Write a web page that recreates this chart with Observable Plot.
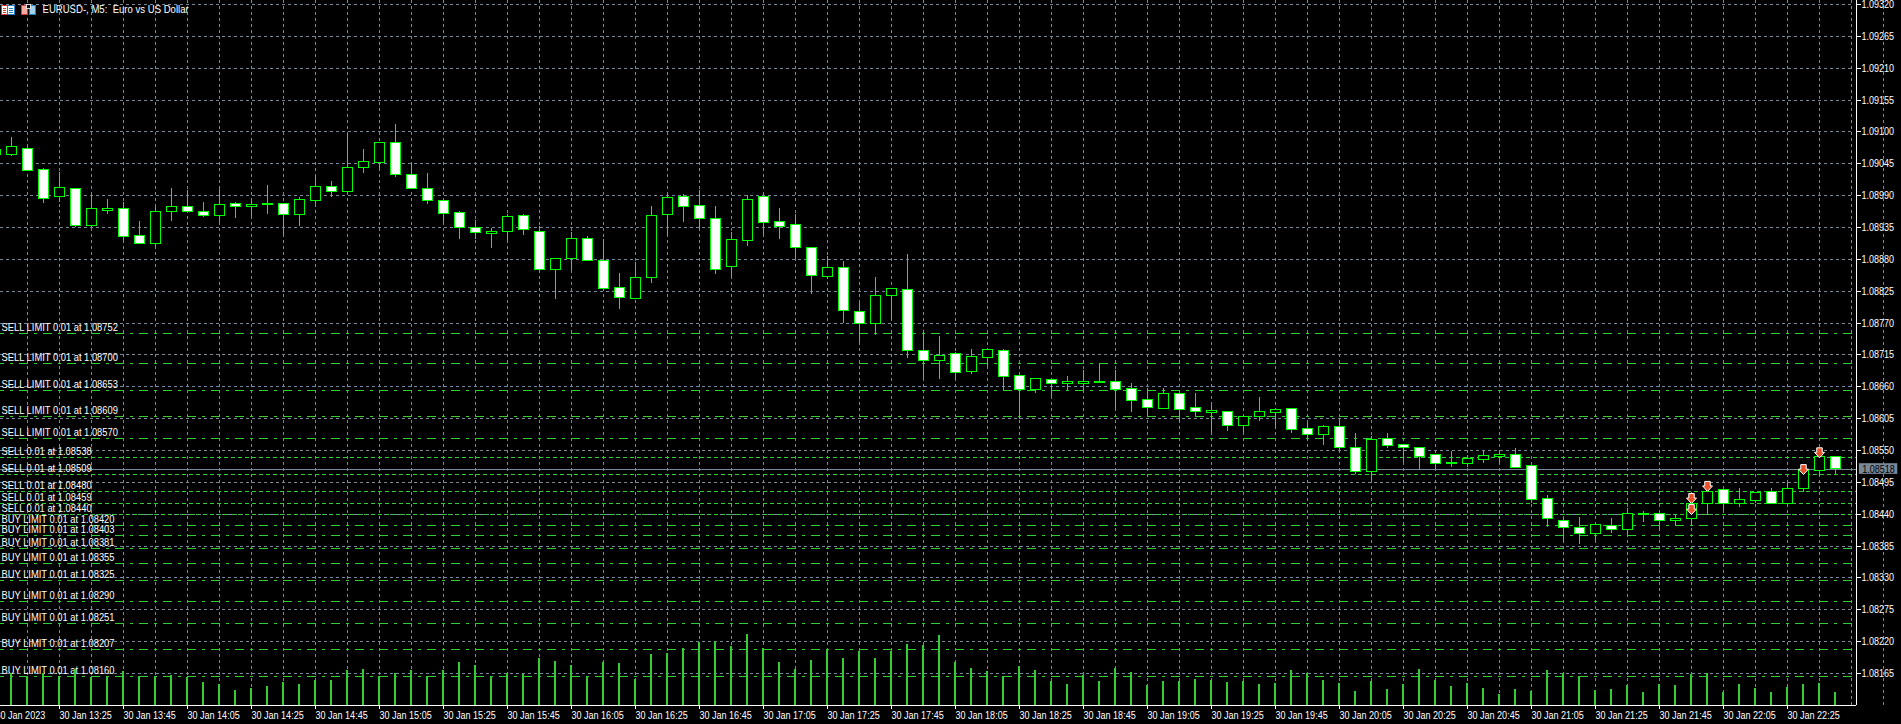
<!DOCTYPE html>
<html><head><meta charset="utf-8">
<script src="https://cdn.jsdelivr.net/npm/d3@7"></script>
<script src="https://cdn.jsdelivr.net/npm/@observablehq/plot@0.6"></script>
<style>
html,body{margin:0;padding:0;background:#000;overflow:hidden}
#wrap{position:relative;width:1901px;height:724px}
#icons{position:absolute;left:0;top:0}
</style></head><body><div id="wrap"></div>
<script>
// prices in points (1e-5); first candle is 30 Jan 13:05, every 5 minutes
const highs=[109075,109091,109073,109037,109030,109003,108990,108983,108978,108945,
108969,109002,108999,108978,109000,108979,108980,109007,108977,108987,
109022,109014,109095,109069,109082,109112,109046,109028,108980,108962,
108947,108934,108958,108957,108936,108882,108927,108919,108914,108855,
108875,108971,108992,108992,108999,108972,108927,108991,108988,108967,
108957,108901,108885,108876,108804,108848,108828,108888,108754,108746,
108720,108724,108723,108725,108680,108675,108672,108677,108688,108698,
108688,108666,108657,108657,108649,108648,108627,108616,108608,108641,
108623,108622,108597,108594,108605,108580,108574,108580,108559,108555,
108542,108549,108542,108550,108550,108554,108523,108473,108432,108435,
108421,108432,108450,108445,108441,108440,108459,108479,108481,108485,
108478,108485,108493,108519,108538,108540];
const lows=[109055,109057,109033,108976,108978,108935,108935,108957,108912,108905,
108902,108945,108961,108952,108943,108950,108954,108957,108923,108936,
108975,108986,108996,109029,109037,109022,109001,108974,108943,108914,
108914,108898,108912,108922,108859,108810,108861,108878,108829,108794,
108810,108839,108919,108943,108930,108853,108848,108903,108923,108914,
108881,108819,108846,108770,108737,108748,108774,108708,108673,108673,
108672,108681,108695,108653,108603,108648,108644,108653,108653,108666,
108623,108615,108611,108620,108598,108608,108581,108582,108581,108600,
108587,108580,108570,108558,108550,108509,108498,108554,108529,108517,
108517,108520,108520,108527,108527,108520,108458,108417,108391,108388,
108394,108407,108403,108426,108411,108418,108418,108437,108446,108452,
108459,108458,108458,108477,108505,108508];
const opens=[109060,109061,109071,109034,108987,109001,108938,108964,108967,108920,
108907,108961,108970,108961,108954,108975,108971,108973,108975,108956,
108981,109005,108997,109037,109046,109081,109025,109001,108980,108960,
108935,108924,108928,108954,108928,108861,108880,108916,108877,108830,
108812,108847,108956,108987,108972,108949,108866,108911,108987,108944,
108939,108899,108850,108865,108789,108769,108816,108827,108721,108705,
108716,108686,108710,108721,108678,108655,108671,108664,108665,108667,
108668,108656,108637,108622,108647,108623,108615,108616,108593,108608,
108615,108621,108587,108576,108590,108555,108513,108569,108559,108555,
108542,108527,108527,108534,108539,108543,108523,108466,108429,108417,
108405,108420,108413,108439,108440,108429,108432,108458,108481,108458,
108463,108478,108458,108483,108515,108538];
const closes=[109069,109074,109033,108985,109003,108937,108967,108967,108918,108907,
108961,108970,108961,108954,108973,108971,108973,108975,108956,108982,
109005,108997,109037,109048,109081,109025,109002,108980,108959,108935,
108926,108928,108953,108930,108861,108880,108916,108878,108829,108814,
108847,108954,108986,108971,108949,108862,108913,108982,108943,108936,
108900,108852,108865,108790,108769,108816,108828,108721,108705,108713,
108684,108711,108723,108677,108655,108673,108664,108668,108668,108668,
108655,108636,108624,108647,108620,108617,108618,108593,108607,108616,
108620,108586,108576,108590,108555,108513,108568,108558,108555,108539,
108526,108528,108535,108540,108542,108520,108465,108432,108417,108405,
108421,108413,108440,108440,108429,108432,108458,108479,108458,108464,
108476,108458,108483,108516,108538,108518];
const volumes=[30,32,28,32,29,36,28,29,34,29,29,30,28,23,21,15,17,19,23,21,25,
25,35,36,29,32,35,29,35,43,40,29,32,31,47,44,40,29,43,42,26,
51,52,57,63,64,59,71,57,43,36,45,56,47,54,47,54,61,60,70,43,
37,34,29,39,35,24,21,30,24,37,33,20,24,24,26,25,23,24,21,22,
35,32,25,22,14,24,16,21,36,25,19,22,17,11,16,14,35,32,29,15,
16,20,13,21,20,31,32,13,21,17,13,18,21,22,13];
const sellLimits=[1.08752,1.08700,1.08653,1.08609,1.08570];
const sells=[1.08538,1.08509,1.08480,1.08459,1.08440];
const buyLimits=[1.08420,1.08403,1.08381,1.08355,1.08325,1.08290,1.08251,1.08207,1.08160];
const yTicks=[1.09320,1.09265,1.09210,1.09155,1.09100,1.09045,1.08990,1.08935,1.08880,1.08825,1.08770,
1.08715,1.08660,1.08605,1.08550,1.08495,1.08440,1.08385,1.08330,1.08275,1.08220,1.08165];
const arrowIdx=[106,106,107,113,114];      // index into candles
const arrowPrices=[1.08467,1.08448,1.08488,1.08517,1.08546];
const lastPrice=1.08518;
const title="EURUSD-, M5:  Euro vs US Dollar";

const MIN=60000, t0=Date.UTC(2023,0,30,13,5);
const at=m=>new Date(t0+m*MIN);
const times=highs.map((_,i)=>at(i*5));
const bars=times.map((t,i)=>({t,h:highs[i]/1e5,l:lows[i]/1e5,o:opens[i]/1e5,c:closes[i]/1e5,v:volumes[i]}));
const xDomain=[at(5-0.6875*5),at(5+115.3125*5)];
const yDomain=[1.0810975,1.0932691];
const volToPrice=v=>yDomain[0]+v*1.72646e-5;

const vGrid=d3.range(0,59).map(i=>at(10+i*10));
const xTicks=[at(0),...d3.range(0,28).map(i=>at(20+i*20))];
const fmt=d3.utcFormat("%d %b %H:%M");
const xLabel=d=>+d===t0?"30 Jan 2023":fmt(d);
const GRID="#778899", ORDER="#32CD32", LIME="#00FF00";
const FONT='"Liberation Sans",sans-serif';
const HALF=5/3.2; // half body width in minutes
const orderLabel=(kind,p)=>`${kind} 0.01 at ${p.toFixed(5)}`;
const orders=[...sellLimits.map(p=>({p,k:"SELL LIMIT"})),...sells.map(p=>({p,k:"SELL"})),...buyLimits.map(p=>({p,k:"BUY LIMIT"}))];
const arrow={draw(c,s){const r=Math.sqrt(s/Math.PI);
  c.moveTo(-r*.55,-r);c.lineTo(r*.55,-r);c.lineTo(r*.55,-r*.1);c.lineTo(r,-r*.1);c.lineTo(0,r);c.lineTo(-r,-r*.1);c.lineTo(-r*.55,-r*.1);c.closePath();}};
const crisp={shapeRendering:"crispEdges"};

const chart=Plot.plot({
  width:1901,height:724,marginLeft:0,marginTop:0,marginRight:45,marginBottom:19,
  style:{background:"#000",fontFamily:FONT,color:"#fff"},
  x:{type:"utc",domain:xDomain,range:[0,1856],label:null},
  y:{domain:yDomain,range:[705,0],label:null},
  marks:[
    Plot.ruleX(vGrid,{y1:yDomain[0],y2:yDomain[1],stroke:GRID,strokeDasharray:"3,3",...crisp}),
    Plot.ruleY(yTicks,{x1:xDomain[0],x2:at(5+115*5),stroke:GRID,strokeDasharray:"3,3",...crisp}),
    Plot.ruleY([...sellLimits,...buyLimits],{x1:xDomain[0],x2:xDomain[1],stroke:ORDER,strokeDasharray:"9,6,3,6",strokeDashoffset:5,...crisp}),
    Plot.ruleY(sells,{x1:xDomain[0],x2:xDomain[1],stroke:ORDER,strokeDasharray:"4,3",...crisp}),
    Plot.ruleY([lastPrice],{x1:xDomain[0],x2:xDomain[1],stroke:GRID,...crisp}),
    Plot.text(orders,{text:d=>orderLabel(d.k,d.p),y:"p",frameAnchor:"left",textAnchor:"start",dx:1,dy:-6,fill:"#fff",fontSize:11,className:"lab-order"}),
    Plot.ruleX(bars,{x:"t",y1:volToPrice(0),y2:d=>volToPrice(d.v),stroke:ORDER,strokeWidth:2,dx:-0.5,...crisp}),
    Plot.ruleX(bars,{x:"t",y1:"l",y2:"h",stroke:LIME,...crisp}),
    Plot.rect(bars,{filter:d=>d.c>=d.o,x1:d=>new Date(+d.t-HALF*MIN),x2:d=>new Date(+d.t+HALF*MIN),y1:"o",y2:"c",fill:"#000",stroke:LIME,...crisp}),
    Plot.rect(bars,{filter:d=>d.c<d.o,x1:d=>new Date(+d.t-HALF*MIN),x2:d=>new Date(+d.t+HALF*MIN),y1:"o",y2:"c",fill:"#fff",stroke:LIME,...crisp}),
    Plot.dot(arrowIdx,{x:i=>times[i],y:(i,j)=>arrowPrices[j],symbol:arrow,r:5,fill:"#E8502A",stroke:"#fff",strokeWidth:1}),
    Plot.ruleX([xDomain[1]],{y1:yDomain[0],y2:yDomain[1],stroke:"#fff",...crisp}),
    Plot.ruleY([yDomain[0]],{x1:xDomain[0],x2:xDomain[1],stroke:"#fff",...crisp}),
    Plot.axisX({ticks:xTicks,tickFormat:xLabel,anchor:"bottom",tickSize:4,tickPadding:2,textAnchor:"start",color:"#fff",fontSize:11,label:null,...crisp}),
    Plot.axisY({ticks:yTicks,tickFormat:d3.format(".5f"),anchor:"right",tickSize:4,tickPadding:1,color:"#fff",fontSize:11,label:null,...crisp}),
    Plot.rect([lastPrice],{x1:at(5+115.3125*5+0.9),x2:at(5+115.3125*5+12.9),y1:p=>p-9.2e-5,y2:p=>p+9.2e-5,fill:GRID}),
    Plot.text([lastPrice],{x:at(5+115.3125*5+6.9),y:p=>p,text:p=>p.toFixed(5),fill:"#000",fontSize:11}),
    Plot.text([title],{frameAnchor:"top-left",dx:42,dy:5,lineAnchor:"top",fill:"#fff",fontSize:11,className:"lab-title"})
  ]
});
const wrap=document.getElementById("wrap");
wrap.appendChild(chart);
// the reference font is narrower than Liberation Sans: condense the glyphs
chart.querySelectorAll("text").forEach(t=>{
  const g=t.closest("g");
  const cls=g?g.getAttribute("class")||"":"";
  const ratio=cls.includes("lab-order")?0.85:cls.includes("lab-title")?0.87:0.82;
  t.setAttribute("textLength",(t.getComputedTextLength()*ratio).toFixed(1));
  t.setAttribute("lengthAdjust","spacingAndGlyphs");
});
wrap.insertAdjacentHTML("beforeend",`<svg id="icons" width="40" height="20" viewBox="0 0 40 20" shape-rendering="crispEdges">
<rect x="1.5" y="5.5" width="6" height="9" fill="#fff" stroke="#e03a2e"/><rect x="7.5" y="5.5" width="7" height="9" fill="#fff" stroke="#1f7fc4"/>
<path d="M3 8h3M3 10h3M3 12h3" stroke="#e03a2e"/><path d="M9 8h4M9 10h4M9 12h4" stroke="#1f7fc4"/>
<rect x="21.5" y="5.5" width="6" height="9" fill="#f6a9a0" stroke="#e03a2e"/><rect x="29.5" y="5.5" width="6" height="9" fill="#9fd0ee" stroke="#1f7fc4"/>
<rect x="26" y="4" width="4" height="4" fill="#111" stroke="#ddd"/></svg>`);
</script></body></html>
